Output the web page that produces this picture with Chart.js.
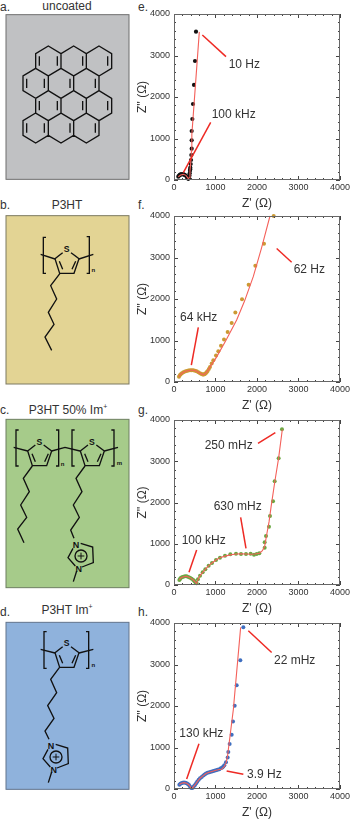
<!DOCTYPE html>
<html>
<head>
<meta charset="utf-8">
<title>Impedance of coated electrodes</title>
<script src="https://cdn.jsdelivr.net/npm/chart.js@4"></script>
<style>
  html, body { margin: 0; padding: 0; background: #fff; }
  body { width: 350px; height: 820px; position: relative; overflow: hidden; font-family: "Liberation Sans", Arial, sans-serif; color: #333; }
  canvas { position: absolute; left: 134px; }
  #molecules { position: absolute; left: 0; top: 0; }
  .letter, .name { position: absolute; font-size: 12px; line-height: 14px; white-space: nowrap; }
  .name { width: 134px; text-align: center; }
  .name sup { font-size: 7px; line-height: 0; }
</style>
</head>
<body>
<svg id="molecules" width="170" height="820" viewBox="0 0 510 2460" xmlns="http://www.w3.org/2000/svg">
  <defs>
    <g id="thiophene" fill="none" stroke="#111" stroke-width="4">
      <path d="M-12 10 L-35 28 L-21 72 L22 72 L37 28 L13 10"/>
      <path d="M-22 36 L-12 60 M27 36 L16 60"/>
      <text x="0" y="9" font-size="26" font-weight="bold" text-anchor="middle" fill="#111" stroke="none">S</text>
    </g>
    <g id="imidazole" fill="none" stroke="#111" stroke-width="4">
      <path d="M-9 12 L-24 40 L-2 65 M14 -3 L50 8 L52 55 L18 68 M2 80 L-8 112"/>
      <circle cx="15" cy="35" r="18"/>
      <path d="M5 35 L25 35 M15 25 L15 45" stroke-width="3"/>
      <text x="0" y="10" font-size="27" font-weight="bold" text-anchor="middle" fill="#111" stroke="none">N</text>
      <text x="8" y="83" font-size="27" font-weight="bold" text-anchor="middle" fill="#111" stroke="none">N</text>
    </g>
  </defs>

  <rect x="18" y="44" width="369" height="494" fill="#c0c1c3" stroke="#6f6f6f" stroke-width="3"/>
  <path id="lattice" fill="none" stroke="#111" stroke-width="4"/>

  <g transform="translate(0,600)">
    <rect x="18" y="47" width="369" height="505" fill="#e3d494" stroke="#7d7a62" stroke-width="3"/>
    <use href="#thiophene" x="200" y="148"/>
    <g fill="none" stroke="#111" stroke-width="4">
      <path d="M122 163 L165 177 M237 177 L280 163"/>
      <path d="M138 112 L130 112 L130 220 L138 220 M260 110 L268 110 L268 220 L260 220"/>
      <path d="M180 220 L152 257 L170 297 L145 337 L162 373 L135 411 L155 451"/>
    </g>
    <text x="280" y="217" font-size="18" font-weight="bold" text-anchor="middle" fill="#111">n</text>
  </g>

  <g transform="translate(0,1230)">
    <rect x="18" y="28" width="369" height="505" fill="#a6cb8a" stroke="#6d7f60" stroke-width="3"/>
    <use href="#thiophene" x="118" y="95"/>
    <use href="#thiophene" x="276" y="95"/>
    <g fill="none" stroke="#111" stroke-width="4">
      <path d="M41 112 L83 123 M155 123 L195 112 L240 123 M313 123 L354 112"/>
      <path d="M56 60 L48 60 L48 168 L56 168 M168 60 L176 60 L176 168 L168 168"/>
      <path d="M224 60 L216 60 L216 168 L224 168 M334 60 L342 60 L342 168 L334 168"/>
      <path d="M97 168 L70 205 L88 245 L62 285 L80 322 L53 357 L72 398"/>
      <path d="M255 168 L228 205 L246 245 L220 285 L238 322 L212 360 L222 385"/>
    </g>
    <text x="188" y="167" font-size="18" font-weight="bold" text-anchor="middle" fill="#111">n</text>
    <text x="358" y="166" font-size="18" font-weight="bold" text-anchor="middle" fill="#111">m</text>
    <use href="#imidazole" x="228" y="403"/>
  </g>

  <g transform="translate(0,1830)">
    <rect x="18" y="37" width="369" height="501" fill="#8fb2dc" stroke="#62748c" stroke-width="3"/>
    <use href="#thiophene" x="200" y="100"/>
    <g fill="none" stroke="#111" stroke-width="4">
      <path d="M122 118 L165 129 M237 129 L280 118"/>
      <path d="M140 65 L132 65 L132 175 L140 175 M258 65 L266 65 L266 175 L258 175"/>
      <path d="M178 173 L152 208 L170 248 L143 287 L162 325 L135 363 L147 388"/>
    </g>
    <text x="280" y="171" font-size="18" font-weight="bold" text-anchor="middle" fill="#111">n</text>
    <use href="#imidazole" x="153" y="406"/>
  </g>
</svg>

<div class="letter" style="left:0;top:0">a.</div>
<div class="name" style="left:0;top:-1px">uncoated</div>
<div class="letter" style="left:0;top:198px">b.</div>
<div class="name" style="left:0;top:198px">P3HT</div>
<div class="letter" style="left:0;top:403px">c.</div>
<div class="name" style="left:1px;top:403px">P3HT 50% Im<sup>+</sup></div>
<div class="letter" style="left:0;top:605px">d.</div>
<div class="name" style="left:0;top:603px">P3HT Im<sup>+</sup></div>
<div class="letter" style="left:138px;top:0">e.</div>
<div class="letter" style="left:138px;top:198px">f.</div>
<div class="letter" style="left:138px;top:403px">g.</div>
<div class="letter" style="left:138px;top:605px">h.</div>

<canvas id="chart-e" width="218" height="210" style="top:4px"></canvas>
<canvas id="chart-f" width="218" height="210" style="top:206px"></canvas>
<canvas id="chart-g" width="218" height="209" style="top:410px"></canvas>
<canvas id="chart-h" width="218" height="210" style="top:613px"></canvas>

<script>
// chemical sketch for panel a, in zoomed px of the left column
const hexRows = [
  { top: 138, centres: [145, 221, 297] },
  { top: 205, centres: [107, 183, 259] },
  { top: 272, centres: [145, 221, 297] },
  { top: 339, centres: [107, 183, 259] },
];
const innerBonds = [[118, 172, 248, 323], [80, 133, 210, 286], [118, 172, 248, 323], [80, 133, 210, 286]];

let latticePath = '';
hexRows.forEach((row, i) => {
  for (const cx of row.centres) {
    const t = row.top;
    latticePath += `M${cx} ${t} L${cx + 38} ${t + 23} L${cx + 38} ${t + 67} L${cx} ${t + 90} L${cx - 38} ${t + 67} L${cx - 38} ${t + 23} Z `;
  }
  for (const x of innerBonds[i]) {
    latticePath += `M${x} ${row.top + 31} L${x} ${row.top + 59} `;
  }
});
document.querySelector('#lattice').setAttribute('d', latticePath);

// e. uncoated
const uncoatedDotsX = [104, 118, 135, 150, 165, 185, 205, 225, 245, 265, 289, 310, 330, 345, 355, 365, 372, 378, 385, 390, 394, 402, 410, 418, 426, 426, 426, 442, 458, 482, 506, 530];
const uncoatedDotsY = [80, 100, 118, 128, 134, 138, 138, 136, 128, 120, 100, 70, 40, 28, 40, 70, 110, 160, 225, 262, 297, 385, 482, 602, 755, 956, 1181, 1470, 1831, 2290, 2867, 3574];
const uncoatedFitX = [104, 161, 225, 289, 345, 369, 385, 402, 420, 430, 610];
const uncoatedFitY = [80, 120, 136, 112, 32, 56, 225, 400, 700, 1100, 3570];
const uncoatedNoteLineX = [[683, 1253], [884, 225]];
const uncoatedNoteLineY = [[3494, 2972], [1390, 177]];
const uncoatedNotes = ['10 Hz', '100 kHz'];
const uncoatedNoteX = [1317, 907];
const uncoatedNoteY = [2787, 1582];

// f. P3HT
const p3htDotsX = [120, 140, 161, 190, 225, 265, 305, 345, 386, 426, 466, 506, 546, 587, 627, 660, 691, 711, 731, 751, 771, 791, 811, 840, 867, 908, 948, 1012, 1068, 1133, 1205, 1293, 1390, 1478, 1639, 1799, 1960, 2169, 2402];
const p3htDotsY = [129, 160, 186, 212, 234, 252, 267, 277, 283, 285, 283, 273, 259, 235, 210, 190, 178, 180, 186, 200, 218, 242, 267, 315, 364, 444, 525, 638, 743, 873, 1026, 1204, 1422, 1673, 1996, 2343, 2804, 3329, 4000];
const p3htFitX = [120, 161, 225, 305, 386, 466, 546, 627, 691, 731, 771, 811, 867, 948, 1028, 1250, 1510, 1700, 1912, 2110, 2313];
const p3htFitY = [129, 186, 234, 267, 283, 283, 259, 210, 178, 186, 218, 267, 364, 480, 606, 1000, 1495, 1950, 2545, 3230, 4000];
const p3htNoteLineX = [[2474, 2835], [586, 418]];
const p3htNoteLineY = [[3216, 2885], [1317, 404]];
const p3htNotes = ['62 Hz', '64 kHz'];
const p3htNoteX = [2884, 145];
const p3htNoteY = [2699, 1552];

// g. P3HT 50% Im+
const blendDotsX = [129, 145, 161, 190, 225, 265, 305, 345, 386, 426, 466, 490, 514, 530, 546, 578, 627, 691, 755, 835, 916, 1012, 1108, 1229, 1357, 1494, 1614, 1735, 1847, 1928, 1992, 2056, 2185, 2185, 2217, 2289, 2313, 2386, 2426, 2522, 2602];
const blendDotsY = [121, 148, 170, 190, 202, 210, 210, 195, 178, 150, 121, 95, 65, 50, 40, 137, 226, 307, 380, 469, 533, 606, 663, 711, 743, 760, 752, 752, 760, 735, 752, 768, 905, 1034, 1188, 1414, 1673, 2028, 2513, 3071, 3774];
const blendFitX = [129, 161, 225, 305, 386, 466, 530, 546, 578, 627, 691, 755, 835, 916, 1012, 1108, 1229, 1357, 1494, 1614, 1735, 1847, 1950, 2060, 2130, 2185, 2230, 2290, 2340, 2430, 2520, 2610];
const blendFitY = [121, 170, 202, 210, 178, 121, 50, 40, 137, 226, 307, 380, 469, 533, 606, 663, 700, 730, 750, 755, 752, 745, 750, 770, 830, 940, 1200, 1530, 1900, 2510, 3071, 3770];
const blendNoteLineX = [[2024, 2442], [1606, 1735], [546, 361]];
const blendNoteLineY = [[3434, 3693], [1640, 889], [849, 307]];
const blendNotes = ['250 mHz', '630 mHz', '100 kHz'];
const blendNoteX = [739, 956, 185];
const blendNoteY = [3378, 1891, 1083];

// h. P3HT Im+
const imDotsX = [129, 153, 177, 209, 241, 273, 305, 333, 361, 385, 410, 430, 450, 478, 506, 534, 562, 595, 627, 667, 707, 739, 771, 811, 851, 892, 932, 972, 1012, 1052, 1092, 1129, 1165, 1190, 1213, 1253, 1293, 1309, 1341, 1390, 1422, 1462, 1510, 1598, 1671];
const imDotsY = [105, 125, 137, 148, 154, 148, 137, 120, 97, 60, 32, 25, 32, 65, 97, 138, 178, 220, 259, 292, 323, 350, 372, 390, 404, 418, 428, 442, 453, 465, 477, 498, 517, 545, 574, 646, 760, 889, 1083, 1309, 1624, 2004, 2497, 3103, 3895];
const imFitX = [129, 177, 241, 305, 361, 410, 450, 506, 562, 627, 707, 771, 851, 932, 1012, 1092, 1149, 1213, 1253, 1290, 1309, 1430, 1606];
const imFitY = [105, 137, 154, 137, 97, 32, 32, 97, 178, 259, 323, 372, 404, 428, 453, 470, 477, 540, 622, 790, 945, 1915, 3895];
const imNoteLineX = [[1791, 2353], [602, 305], [1269, 1671]];
const imNoteLineY = [[3814, 3289], [1091, 242], [436, 356]];
const imNotes = ['22 mHz', '130 kHz', '3.9 Hz'];
const imNoteX = [2410, 129, 1759];
const imNoteY = [3095, 1325, 347];

const tickValues = [0, 1000, 2000, 3000, 4000];
const noteRed = '#ee2a24';
const fitRed = '#f4605a';
const tickFont = { family: '"Liberation Sans", Arial, sans-serif', size: 9 };
const titleFont = { family: '"Liberation Sans", Arial, sans-serif', size: 12 };

const toPoints = (xs, ys) => xs.map((x, i) => ({ x, y: ys[i] }));

// frame, inward ticks on all four sides, and the callout texts
const boxPlugin = {
  id: 'boxPlugin',
  afterDatasetsDraw(chart, args, opts) {
    const { ctx, chartArea: a, scales: { x, y } } = chart;
    ctx.save();
    ctx.strokeStyle = '#444';
    ctx.lineWidth = 1;
    ctx.beginPath();
    for (const t of x.ticks) {
      const px = Math.round(x.getPixelForValue(t.value)) + 0.5;
      const len = t.value % 1000 === 0 ? 4 : 2;
      ctx.moveTo(px, a.bottom);
      ctx.lineTo(px, a.bottom - len);
      ctx.moveTo(px, a.top);
      ctx.lineTo(px, a.top + len);
    }
    for (const t of y.ticks) {
      const py = Math.round(y.getPixelForValue(t.value)) + 0.5;
      const len = t.value % 1000 === 0 ? 4 : 2;
      ctx.moveTo(a.left, py);
      ctx.lineTo(a.left + len, py);
      ctx.moveTo(a.right, py);
      ctx.lineTo(a.right - len, py);
    }
    ctx.stroke();
    ctx.strokeStyle = '#666';
    ctx.strokeRect(a.left + 0.5, a.top + 0.5, a.right - a.left - 1, a.bottom - a.top - 1);

    ctx.fillStyle = '#333';
    ctx.font = '12px "Liberation Sans", Arial, sans-serif';
    ctx.textBaseline = 'middle';
    opts.notes.forEach((note, i) => {
      ctx.fillText(note, x.getPixelForValue(opts.noteX[i]), y.getPixelForValue(opts.noteY[i]));
    });
    ctx.restore();
  }
};

function makeChart(selector, panel) {
  const noteLines = panel.lineX.map((xs, i) => ({
    data: toPoints(xs, panel.lineY[i]),
    showLine: true,
    borderColor: noteRed,
    borderWidth: 1.5,
    pointRadius: 0,
  }));

  return new Chart(document.querySelector(selector), {
    type: 'scatter',
    data: {
      datasets: [
        {
          data: toPoints(panel.dotsX, panel.dotsY),
          backgroundColor: panel.colour,
          borderWidth: 0,
          pointRadius: panel.radius,
          order: 2,
        },
        {
          data: toPoints(panel.fitX, panel.fitY),
          showLine: true,
          borderColor: fitRed,
          borderWidth: 1.1,
          pointRadius: 0,
          order: 1,
        },
        ...noteLines,
      ]
    },
    options: {
      responsive: false,
      animation: false,
      clip: false,
      layout: { padding: { top: 10, right: 10, left: 0, bottom: 0 } },
      plugins: {
        legend: { display: false },
        tooltip: { enabled: false },
        boxPlugin: { notes: panel.notes, noteX: panel.noteX, noteY: panel.noteY },
      },
      scales: {
        x: {
          type: 'linear',
          min: 0,
          max: 4000,
          afterFit: (scale) => { scale.height = 34; },
          grid: { display: false, drawTicks: false },
          border: { display: false },
          ticks: {
            stepSize: 200,
            autoSkip: false,
            maxRotation: 0,
            padding: 2,
            color: '#333',
            font: tickFont,
            callback: (v) => (tickValues.includes(v) ? String(v) : ''),
          },
          title: { display: true, text: "Z' (Ω)", color: '#333', font: titleFont, padding: { top: 0, bottom: 3 } },
        },
        y: {
          type: 'linear',
          min: 0,
          max: 4000,
          afterFit: (scale) => { scale.width = 40; },
          grid: { display: false, drawTicks: false },
          border: { display: false },
          ticks: {
            stepSize: 200,
            autoSkip: false,
            padding: 4,
            color: '#333',
            font: tickFont,
            callback: (v) => (tickValues.includes(v) ? String(v) : ''),
          },
          title: { display: true, text: "Z'' (Ω)", color: '#333', font: titleFont, padding: { top: 1, bottom: 0 } },
        },
      },
    },
    plugins: [boxPlugin],
  });
}

makeChart('#chart-e', {
  dotsX: uncoatedDotsX, dotsY: uncoatedDotsY, fitX: uncoatedFitX, fitY: uncoatedFitY,
  lineX: uncoatedNoteLineX, lineY: uncoatedNoteLineY,
  notes: uncoatedNotes, noteX: uncoatedNoteX, noteY: uncoatedNoteY,
  colour: '#111111', radius: 2.1,
});
makeChart('#chart-f', {
  dotsX: p3htDotsX, dotsY: p3htDotsY, fitX: p3htFitX, fitY: p3htFitY,
  lineX: p3htNoteLineX, lineY: p3htNoteLineY,
  notes: p3htNotes, noteX: p3htNoteX, noteY: p3htNoteY,
  colour: '#cc9a33', radius: 2,
});
makeChart('#chart-g', {
  dotsX: blendDotsX, dotsY: blendDotsY, fitX: blendFitX, fitY: blendFitY,
  lineX: blendNoteLineX, lineY: blendNoteLineY,
  notes: blendNotes, noteX: blendNoteX, noteY: blendNoteY,
  colour: '#6aa842', radius: 2,
});
makeChart('#chart-h', {
  dotsX: imDotsX, dotsY: imDotsY, fitX: imFitX, fitY: imFitY,
  lineX: imNoteLineX, lineY: imNoteLineY,
  notes: imNotes, noteX: imNoteX, noteY: imNoteY,
  colour: '#3f6fc0', radius: 2,
});
</script>
</body>
</html>
